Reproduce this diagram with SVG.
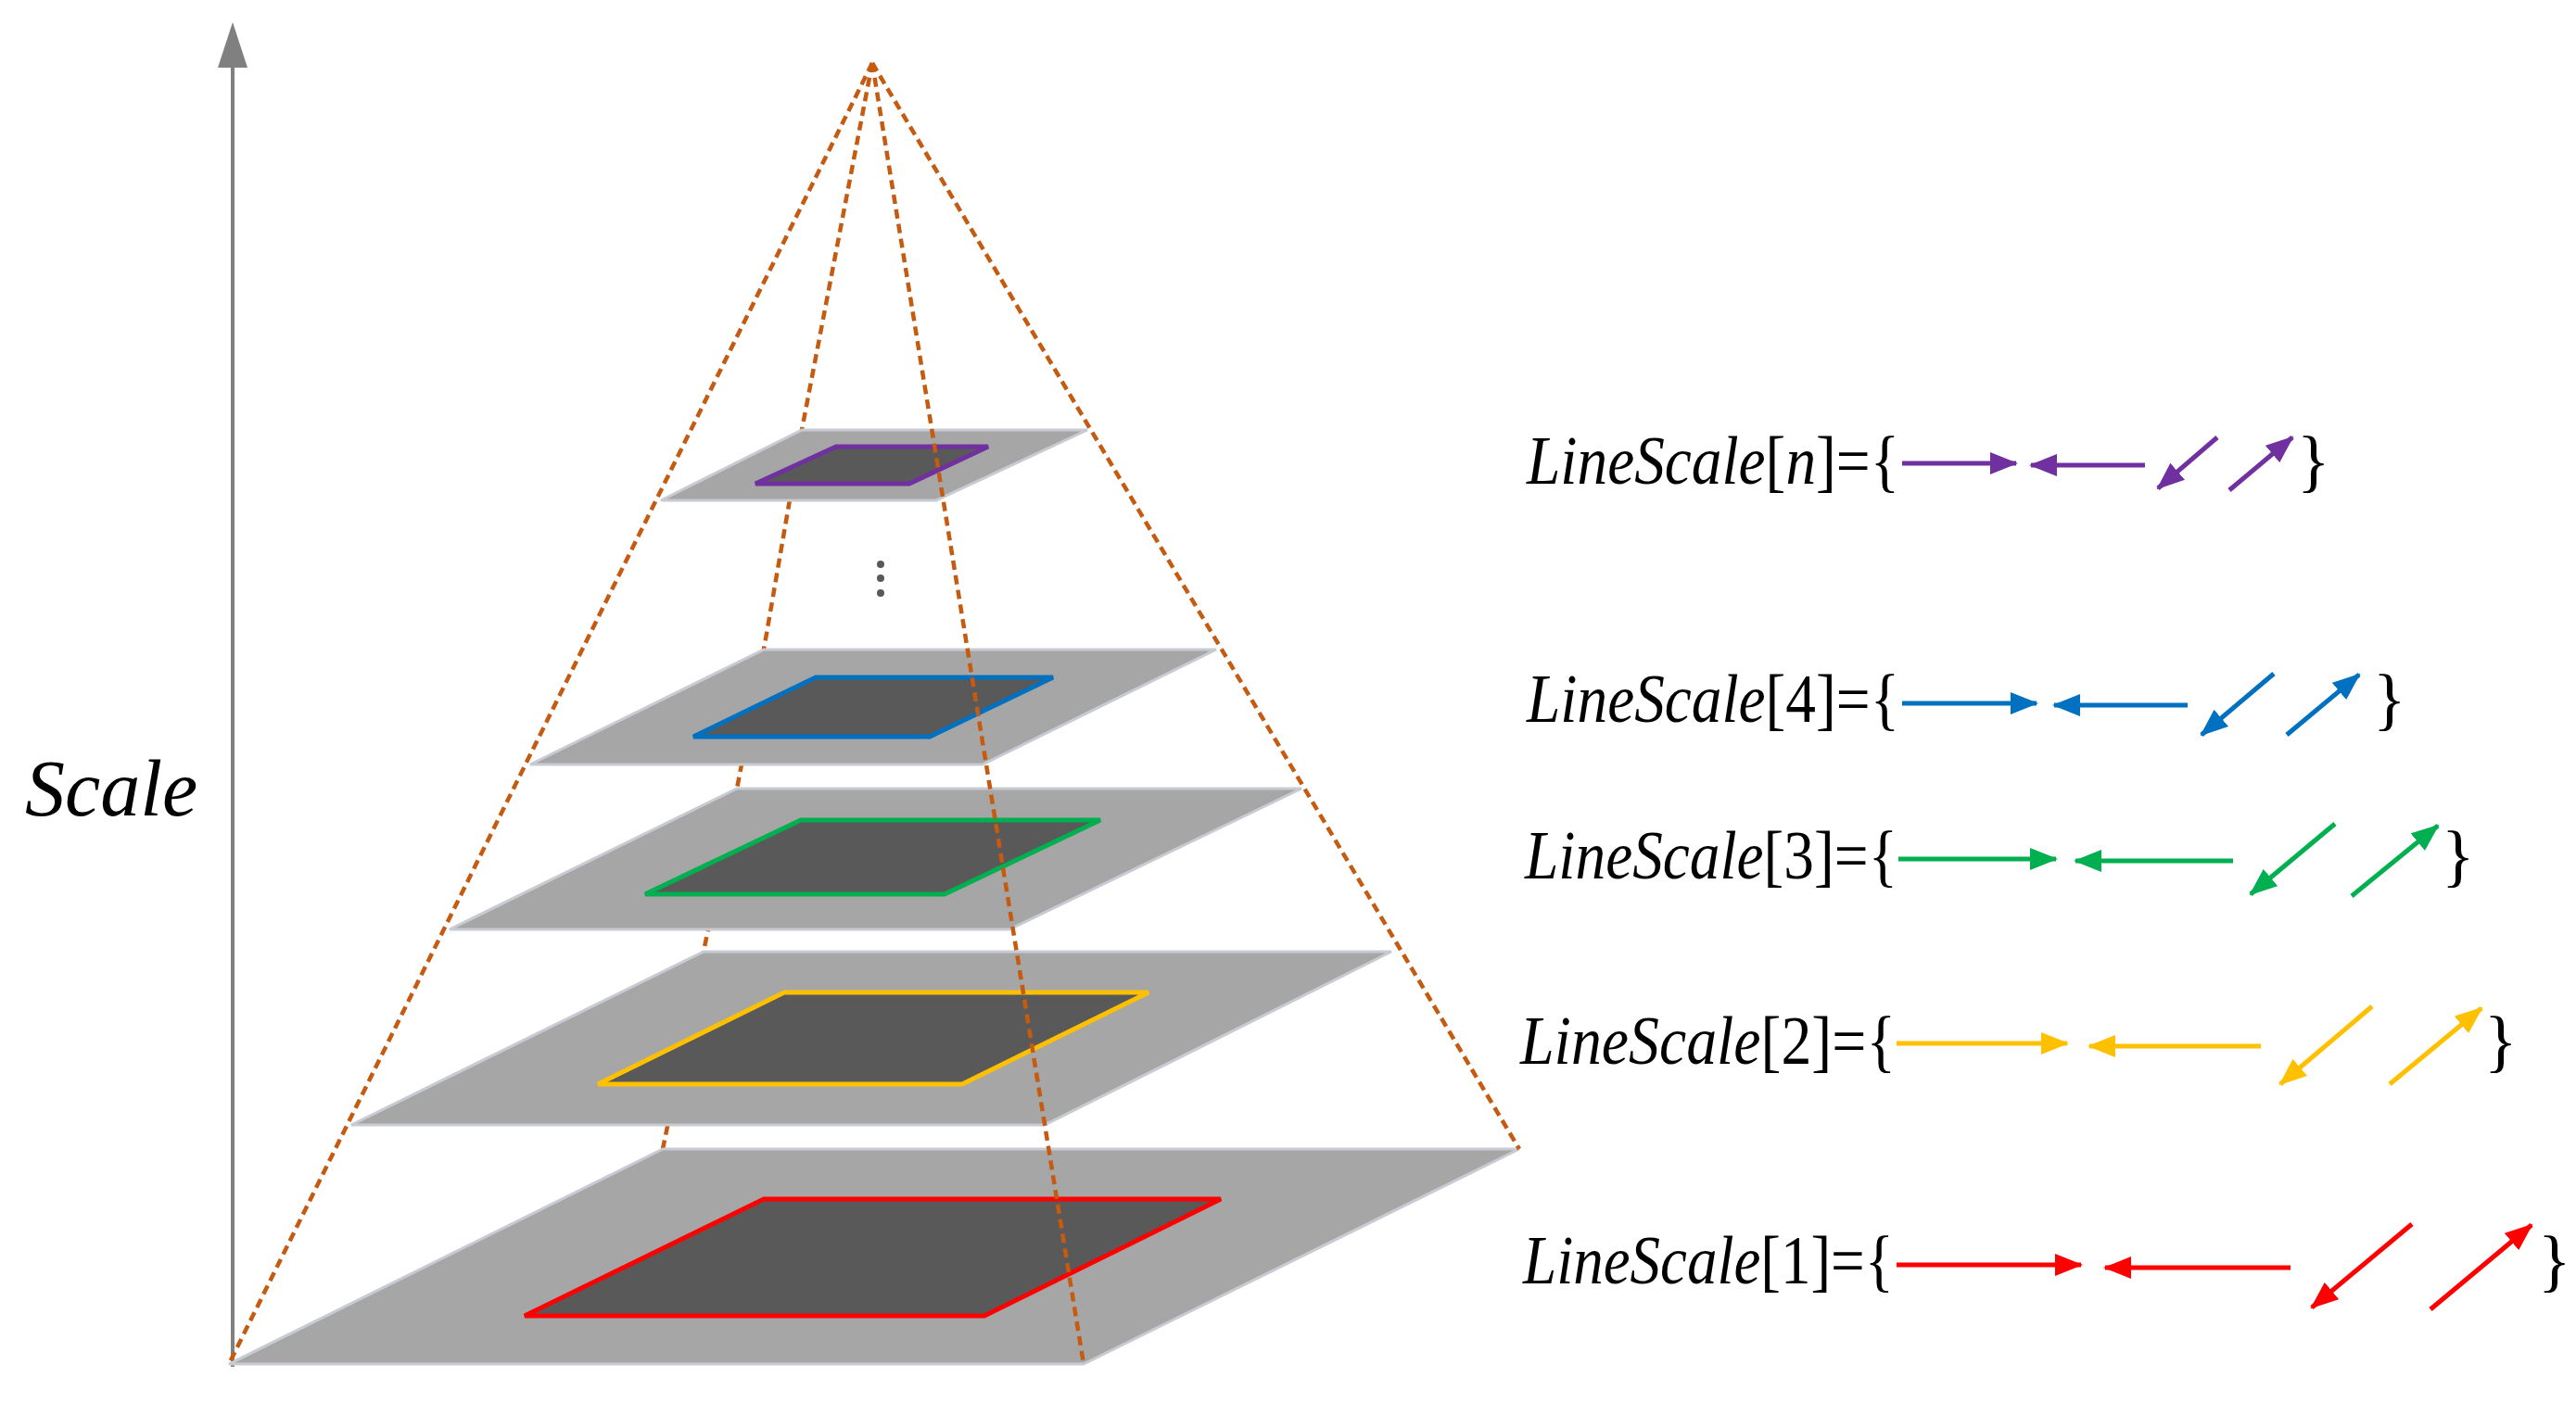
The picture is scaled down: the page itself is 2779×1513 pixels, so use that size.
<svg xmlns="http://www.w3.org/2000/svg" width="2779" height="1513" viewBox="0 0 2779 1513">
<style>
.plane{fill:#a6a6a6;stroke:#c8ccd2;stroke-width:3}
.inner{fill:#595959;stroke-width:5}
.dash{fill:none;stroke:#c55a11;stroke-width:4.5;stroke-dasharray:10 6}
.lbl{font-family:"Liberation Serif","Times New Roman",serif;font-size:74px;fill:#000}
.it{font-style:italic}
.ar{stroke-width:5;fill:none}
</style>
<defs>
<marker id="mp" markerUnits="userSpaceOnUse" markerWidth="32" markerHeight="24" refX="28" refY="12" orient="auto"><path d="M0,0 L30,12 L0,24 Z" fill="#7030a0"/></marker>
<marker id="mb" markerUnits="userSpaceOnUse" markerWidth="32" markerHeight="24" refX="28" refY="12" orient="auto"><path d="M0,0 L30,12 L0,24 Z" fill="#0070c0"/></marker>
<marker id="mg" markerUnits="userSpaceOnUse" markerWidth="32" markerHeight="24" refX="28" refY="12" orient="auto"><path d="M0,0 L30,12 L0,24 Z" fill="#00b050"/></marker>
<marker id="my" markerUnits="userSpaceOnUse" markerWidth="32" markerHeight="24" refX="28" refY="12" orient="auto"><path d="M0,0 L30,12 L0,24 Z" fill="#ffc000"/></marker>
<marker id="mr" markerUnits="userSpaceOnUse" markerWidth="32" markerHeight="24" refX="28" refY="12" orient="auto"><path d="M0,0 L30,12 L0,24 Z" fill="#ff0000"/></marker>
</defs>
<rect width="2779" height="1513" fill="#fff"/>
<g id="axis">
<line x1="251" y1="1475" x2="251" y2="70" stroke="#808080" stroke-width="4"/>
<path d="M251,24 L267,73 L235,73 Z" fill="#808080"/>
<text x="27" y="880" font-family="'Liberation Serif','Times New Roman',serif" font-size="86" font-style="italic">Scale</text>
</g>
<g id="hidden-edge">
<polyline class="dash" points="941,68 865,464 824,701 795,851 759,1027 715,1240"/>
</g>
<g id="layer1">
<polygon class="plane" points="715,1240 1639,1240 1169,1472 247,1472"/>
<polygon class="inner" stroke="#ff0000" points="824,1294 1317,1294 1062,1420 566,1420"/>
</g>
<g id="layer2">
<polygon class="plane" points="759,1027 1501,1027 1127,1214 379,1214"/>
<polygon class="inner" stroke="#ffc000" points="846,1071 1239,1071 1038,1170 645,1170"/>
</g>
<g id="layer3">
<polygon class="plane" points="795,851 1404,851 1089,1003 485,1003"/>
<polygon class="inner" stroke="#00b050" points="864,885 1187,885 1019,965 696,965"/>
</g>
<g id="layer4">
<polygon class="plane" points="824,701 1312,701 1060,825 572,825"/>
<polygon class="inner" stroke="#0070c0" points="880,731 1136,731 1003,795 748,795"/>
</g>
<g id="layern">
<polygon class="plane" points="865,464 1173,464 1010,540 713,540"/>
<polygon class="inner" stroke="#7030a0" points="902,482 1066,482 981,522 815,522"/>
</g>
<g id="dots" fill="#595959">
<circle cx="950" cy="609" r="4"/><circle cx="950" cy="624" r="4"/><circle cx="950" cy="640" r="4"/>
</g>
<g id="connectors">
<line class="dash" x1="941" y1="68" x2="247" y2="1472"/>
<line class="dash" x1="941" y1="68" x2="1639" y2="1240"/>
<line class="dash" x1="941" y1="68" x2="1169" y2="1472"/>
</g>
<g id="row-n">
<text class="lbl" x="1647" y="522" textLength="402" lengthAdjust="spacingAndGlyphs"><tspan class="it">LineScale</tspan>[<tspan class="it">n</tspan>]={</text>
<g class="ar" stroke="#7030a0">
<line x1="2052" y1="500" x2="2175" y2="500" marker-end="url(#mp)"/>
<line x1="2314" y1="502" x2="2191" y2="502" marker-end="url(#mp)"/>
<line x1="2392" y1="472" x2="2328" y2="527" marker-end="url(#mp)"/>
<line x1="2405" y1="529" x2="2473" y2="472" marker-end="url(#mp)"/>
</g>
<text class="lbl" x="2478" y="522">}</text>
</g>
<g id="row-4">
<text class="lbl" x="1647" y="779" textLength="402" lengthAdjust="spacingAndGlyphs"><tspan class="it">LineScale</tspan>[4]={</text>
<g class="ar" stroke="#0070c0">
<line x1="2052" y1="759" x2="2197" y2="759" marker-end="url(#mb)"/>
<line x1="2360" y1="761" x2="2216" y2="761" marker-end="url(#mb)"/>
<line x1="2453" y1="727" x2="2375" y2="793" marker-end="url(#mb)"/>
<line x1="2467" y1="793" x2="2545" y2="728" marker-end="url(#mb)"/>
</g>
<text class="lbl" x="2560" y="779">}</text>
</g>
<g id="row-3">
<text class="lbl" x="1645" y="948" textLength="402" lengthAdjust="spacingAndGlyphs"><tspan class="it">LineScale</tspan>[3]={</text>
<g class="ar" stroke="#00b050">
<line x1="2048" y1="927" x2="2218" y2="927" marker-end="url(#mg)"/>
<line x1="2409" y1="929" x2="2239" y2="929" marker-end="url(#mg)"/>
<line x1="2519" y1="889" x2="2428" y2="965" marker-end="url(#mg)"/>
<line x1="2537" y1="967" x2="2630" y2="891" marker-end="url(#mg)"/>
</g>
<text class="lbl" x="2634" y="948">}</text>
</g>
<g id="row-2">
<text class="lbl" x="1640" y="1148" textLength="405" lengthAdjust="spacingAndGlyphs"><tspan class="it">LineScale</tspan>[2]={</text>
<g class="ar" stroke="#ffc000">
<line x1="2046" y1="1126" x2="2230" y2="1126" marker-end="url(#my)"/>
<line x1="2439" y1="1129" x2="2254" y2="1129" marker-end="url(#my)"/>
<line x1="2559" y1="1086" x2="2460" y2="1170" marker-end="url(#my)"/>
<line x1="2578" y1="1170" x2="2677" y2="1088" marker-end="url(#my)"/>
</g>
<text class="lbl" x="2680" y="1148">}</text>
</g>
<g id="row-1">
<text class="lbl" x="1643" y="1385" textLength="400" lengthAdjust="spacingAndGlyphs"><tspan class="it">LineScale</tspan>[1]={</text>
<g class="ar" stroke="#ff0000">
<line x1="2046" y1="1365" x2="2245" y2="1365" marker-end="url(#mr)"/>
<line x1="2471" y1="1368" x2="2271" y2="1368" marker-end="url(#mr)"/>
<line x1="2602" y1="1321" x2="2494" y2="1411" marker-end="url(#mr)"/>
<line x1="2622" y1="1413" x2="2731" y2="1322" marker-end="url(#mr)"/>
</g>
<text class="lbl" x="2738" y="1385">}</text>
</g>
</svg>
